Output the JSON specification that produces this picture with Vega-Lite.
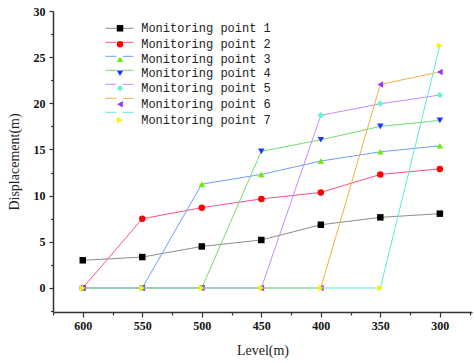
{
  "$schema": "https://vega.github.io/schema/vega-lite/v6.json",
  "width": 419,
  "height": 301,
  "autosize": {"type": "none"},
  "padding": {"left": 53, "top": 11, "right": 2, "bottom": 51},
  "background": "white",
  "config": {"view": {"stroke": null}, "axis": {"grid": false}},
  "data": {"values": [
    {"level": 600, "disp": 3.0, "series": "Monitoring point 1"},
    {"level": 550, "disp": 3.35, "series": "Monitoring point 1"},
    {"level": 500, "disp": 4.5, "series": "Monitoring point 1"},
    {"level": 450, "disp": 5.2, "series": "Monitoring point 1"},
    {"level": 400, "disp": 6.85, "series": "Monitoring point 1"},
    {"level": 350, "disp": 7.65, "series": "Monitoring point 1"},
    {"level": 300, "disp": 8.05, "series": "Monitoring point 1"},
    {"level": 600, "disp": 0, "series": "Monitoring point 2"},
    {"level": 550, "disp": 7.5, "series": "Monitoring point 2"},
    {"level": 500, "disp": 8.7, "series": "Monitoring point 2"},
    {"level": 450, "disp": 9.65, "series": "Monitoring point 2"},
    {"level": 400, "disp": 10.35, "series": "Monitoring point 2"},
    {"level": 350, "disp": 12.3, "series": "Monitoring point 2"},
    {"level": 300, "disp": 12.9, "series": "Monitoring point 2"},
    {"level": 600, "disp": 0, "series": "Monitoring point 3"},
    {"level": 550, "disp": 0, "series": "Monitoring point 3"},
    {"level": 500, "disp": 11.25, "series": "Monitoring point 3"},
    {"level": 450, "disp": 12.3, "series": "Monitoring point 3"},
    {"level": 400, "disp": 13.75, "series": "Monitoring point 3"},
    {"level": 350, "disp": 14.75, "series": "Monitoring point 3"},
    {"level": 300, "disp": 15.4, "series": "Monitoring point 3"},
    {"level": 600, "disp": 0, "series": "Monitoring point 4"},
    {"level": 550, "disp": 0, "series": "Monitoring point 4"},
    {"level": 500, "disp": 0, "series": "Monitoring point 4"},
    {"level": 450, "disp": 14.8, "series": "Monitoring point 4"},
    {"level": 400, "disp": 16.05, "series": "Monitoring point 4"},
    {"level": 350, "disp": 17.5, "series": "Monitoring point 4"},
    {"level": 300, "disp": 18.15, "series": "Monitoring point 4"},
    {"level": 600, "disp": 0, "series": "Monitoring point 5"},
    {"level": 550, "disp": 0, "series": "Monitoring point 5"},
    {"level": 500, "disp": 0, "series": "Monitoring point 5"},
    {"level": 450, "disp": 0, "series": "Monitoring point 5"},
    {"level": 400, "disp": 18.7, "series": "Monitoring point 5"},
    {"level": 350, "disp": 19.95, "series": "Monitoring point 5"},
    {"level": 300, "disp": 20.9, "series": "Monitoring point 5"},
    {"level": 600, "disp": 0, "series": "Monitoring point 6"},
    {"level": 550, "disp": 0, "series": "Monitoring point 6"},
    {"level": 500, "disp": 0, "series": "Monitoring point 6"},
    {"level": 450, "disp": 0, "series": "Monitoring point 6"},
    {"level": 400, "disp": 0, "series": "Monitoring point 6"},
    {"level": 350, "disp": 22.05, "series": "Monitoring point 6"},
    {"level": 300, "disp": 23.4, "series": "Monitoring point 6"},
    {"level": 600, "disp": 0, "series": "Monitoring point 7"},
    {"level": 550, "disp": 0, "series": "Monitoring point 7"},
    {"level": 500, "disp": 0, "series": "Monitoring point 7"},
    {"level": 450, "disp": 0, "series": "Monitoring point 7"},
    {"level": 400, "disp": 0, "series": "Monitoring point 7"},
    {"level": 350, "disp": 0, "series": "Monitoring point 7"},
    {"level": 300, "disp": 26.25, "series": "Monitoring point 7"}
  ]},
  "encoding": {
    "x": {
      "field": "level", "type": "quantitative",
      "scale": {"domain": [273, 625], "reverse": true, "nice": false, "zero": false},
      "axis": {
        "values": [625, 600, 575, 550, 525, 500, 475, 450, 425, 400, 375, 350, 325, 300, 275],
        "labelExpr": "datum.value % 50 === 0 ? datum.label : ''",
        "tickSize": {"condition": {"test": "datum.value % 50 === 0", "value": 5}, "value": 3},
        "tickColor": "#333", "tickWidth": 1.2,
        "domainColor": "#333", "domainWidth": 1.5,
        "labelFont": "Liberation Serif", "labelFontWeight": "bold", "labelFontSize": 12, "labelColor": "#111",
        "labelPadding": 3,
        "title": "Level(m)", "titleFont": "Liberation Serif", "titleFontWeight": "normal", "titleFontSize": 14, "titleColor": "#222",
        "titlePadding": 12
      }
    },
    "y": {
      "field": "disp", "type": "quantitative",
      "scale": {"domain": [-2.6, 30], "nice": false, "zero": false},
      "axis": {
        "values": [-2.5, 0, 2.5, 5, 7.5, 10, 12.5, 15, 17.5, 20, 22.5, 25, 27.5, 30],
        "labelExpr": "datum.value % 5 === 0 ? datum.label : ''",
        "tickSize": {"condition": {"test": "datum.value % 5 === 0", "value": 4}, "value": 2.5},
        "tickColor": "#333", "tickWidth": 1.2,
        "domainColor": "#333", "domainWidth": 1.5,
        "labelFont": "Liberation Serif", "labelFontWeight": "bold", "labelFontSize": 12, "labelColor": "#111",
        "labelPadding": 4,
        "title": "Displacement(m)", "titleFont": "Liberation Serif", "titleFontWeight": "normal", "titleFontSize": 14, "titleColor": "#222",
        "titlePadding": 12
      }
    }
  },
  "layer": [
    {
      "mark": {"type": "line", "strokeWidth": 1},
      "encoding": {
        "stroke": {
          "field": "series", "type": "nominal",
          "scale": {
            "range": ["#8c8c8c", "#ff5080", "#6f9cff", "#6fdc6f", "#c58cff", "#f5b041", "#5eeadb"]
          },
          "legend": {
            "title": null, "orient": "none", "legendX": 59, "legendY": 9.8,
            "symbolType": "M-2,0H-0.45M0.45,0H2", "symbolSize": 196, "symbolStrokeWidth": 1,
            "labelFont": "Liberation Mono", "labelFontSize": 12, "labelExpr": "''", "labelOffset": 13.7,
            "rowPadding": 0, "padding": 0
          }
        }
      }
    },
    {
      "mark": {"type": "point", "filled": true, "size": 42, "opacity": 1},
      "encoding": {
        "fill": {
          "field": "series", "type": "nominal",
          "scale": {
            "domain": ["Monitoring point 1", "Monitoring point 2", "Monitoring point 3", "Monitoring point 4", "Monitoring point 5", "Monitoring point 6", "Monitoring point 7"],
            "range": ["#000000", "#ff0000", "#66ee00", "#1f35ff", "#66f5cc", "#9933ff", "#f5f500"]
          },
          "legend": {
            "title": null, "orient": "none", "legendX": 61, "legendY": 11.3,
            "symbolSize": 42, "labelFont": "Liberation Mono", "labelFontSize": 12, "labelColor": "#222",
            "labelOffset": 15.2, "rowPadding": 2, "padding": 0
          }
        },
        "shape": {
          "field": "series", "type": "nominal",
          "scale": {
            "domain": ["Monitoring point 1", "Monitoring point 2", "Monitoring point 3", "Monitoring point 4", "Monitoring point 5", "Monitoring point 6", "Monitoring point 7"],
            "range": ["square", "circle", "triangle-up", "triangle-down", "diamond", "triangle-left", "triangle-right"]
          },
          "legend": {
            "title": null, "orient": "none", "legendX": 61, "legendY": 11.3,
            "symbolSize": 42, "labelFont": "Liberation Mono", "labelFontSize": 12, "labelColor": "#222",
            "labelOffset": 15.2, "rowPadding": 2, "padding": 0
          }
        }
      }
    }
  ]
}
